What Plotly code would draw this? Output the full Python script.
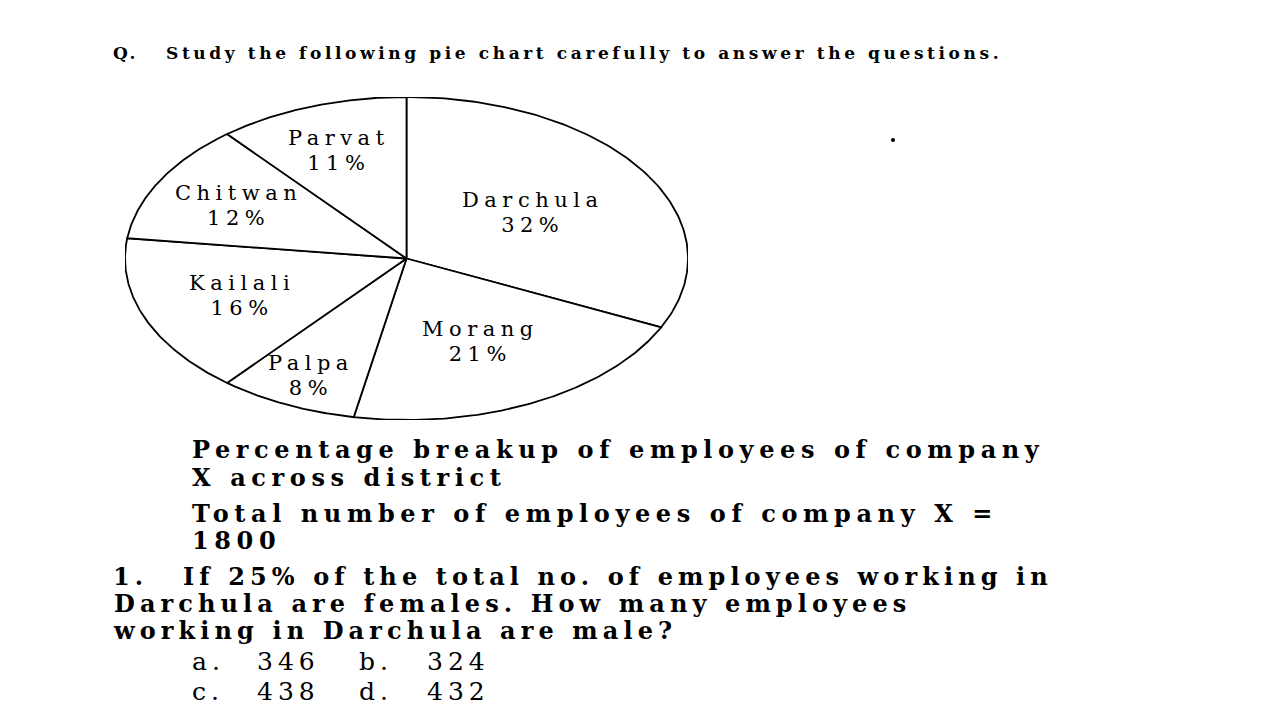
import numpy as np
import plotly.graph_objects as go

# ---- data ----
districts = ["Darchula", "Morang", "Palpa", "Kailali", "Chitwan", "Parvat"]
percentages = [32, 21, 8, 16, 12, 11]

title_q = "Q."
title_text = "Study the following pie chart carefully to answer the questions."
caption_lines = ["Percentage breakup of employees of company", "X across district"]
total_lines = ["Total number of employees of company X =", "1800"]
question_num = "1."
question_lines = ["If 25% of the total no. of employees working in",
                  "Darchula are females. How many employees",
                  "working in Darchula are male?"]
option_letters = ["a.", "b.", "c.", "d."]
option_values = ["346", "324", "438", "432"]

# ---- style / layout ----
WIN_W, WIN_H = 1280, 720
OFF = 8                                   # page body margin
W, H = WIN_W - OFF, WIN_H - OFF
pie_left, pie_right, pie_top, pie_bottom = 125, 688, 97, 420   # ellipse box (window px)
label_r = {"Darchula": 0.53, "Morang": 0.58, "Palpa": 0.80,
           "Kailali": 0.63, "Chitwan": 0.68, "Parvat": 0.71}
serif = "DejaVu Serif"


def fx(p):
    return (p - OFF) / W


def fy(p):
    return 1 - (p - OFF) / H


def styled(text, size, spacing, bold=False):
    s = f"<span style='font-size:{size}px;letter-spacing:{spacing}px'>{text}</span>"
    return f"<b>{s}</b>" if bold else s


fig = go.Figure()

total = sum(percentages)
start = 0.0
annotations = []
for name, val in zip(districts, percentages):
    a0 = start / total * 2 * np.pi
    a1 = (start + val) / total * 2 * np.pi
    t = np.linspace(a0, a1, 120)
    xs = np.concatenate([[0], np.sin(t), [0]])
    ys = np.concatenate([[0], np.cos(t), [0]])
    fig.add_trace(go.Scatter(x=xs, y=ys, mode="lines", fill="toself",
                             fillcolor="white",
                             line=dict(color="black", width=1.8),
                             hoverinfo="skip", showlegend=False))
    mid = (a0 + a1) / 2
    r = label_r[name]
    lx, ly = r * np.sin(mid), r * np.cos(mid)
    annotations.append(dict(
        x=lx, y=ly, xref="x", yref="y",
        text=styled(name, 21, 5.5) + "<br>" + styled(f"{val}%", 21, 5.5),
        showarrow=False, align="center",
        font=dict(family=serif, size=19.3, color="black")))
    start += val


def block(xp, yp, lines, base, size, spacing, bold=True, align="left"):
    annotations.append(dict(
        x=fx(xp), y=fy(yp), xref="paper", yref="paper",
        text="<br>".join(styled(l, size, spacing, bold) for l in lines),
        showarrow=False, xanchor="left", yanchor="middle", align=align,
        font=dict(family=serif, size=base, color="black")))


# title
block(111, 53, [title_q], 17, 17, 2.5)
block(164, 53, [title_text], 17, 17, 3.6)
# caption
block(190, 463, caption_lines, 21.5, 24, 5.6)
block(190, 526.5, total_lines, 21, 24, 5.6)
# question
block(111, 576, [question_num], 21, 24, 5.1)
block(181, 576, [question_lines[0]], 21, 24, 5.1)
block(111, 616.5, question_lines[1:], 21, 24, 5.1)
# options (two rows per column)
opt_cols = [(190, [option_letters[0], option_letters[2]]),
            (255, [option_values[0], option_values[2]]),
            (357, [option_letters[1], option_letters[3]]),
            (425, [option_values[1], option_values[3]])]
for xp, lines in opt_cols:
    block(xp, 676, lines, 23, 25, 5, bold=False)

fig.update_layout(
    width=W, height=H,
    margin=dict(l=0, r=0, t=0, b=0),
    paper_bgcolor="white", plot_bgcolor="white",
    xaxis=dict(domain=[fx(pie_left), fx(pie_right)], range=[-1, 1],
               visible=False, fixedrange=True),
    yaxis=dict(domain=[fy(pie_bottom), fy(pie_top)], range=[-1, 1],
               visible=False, fixedrange=True),
    annotations=annotations,
    shapes=[dict(type="circle", xref="paper", yref="paper",
                 x0=fx(891), x1=fx(895), y0=fy(142), y1=fy(138),
                 fillcolor="black", line=dict(width=0))],
    showlegend=False,
)

fig.write_html("out.html")
